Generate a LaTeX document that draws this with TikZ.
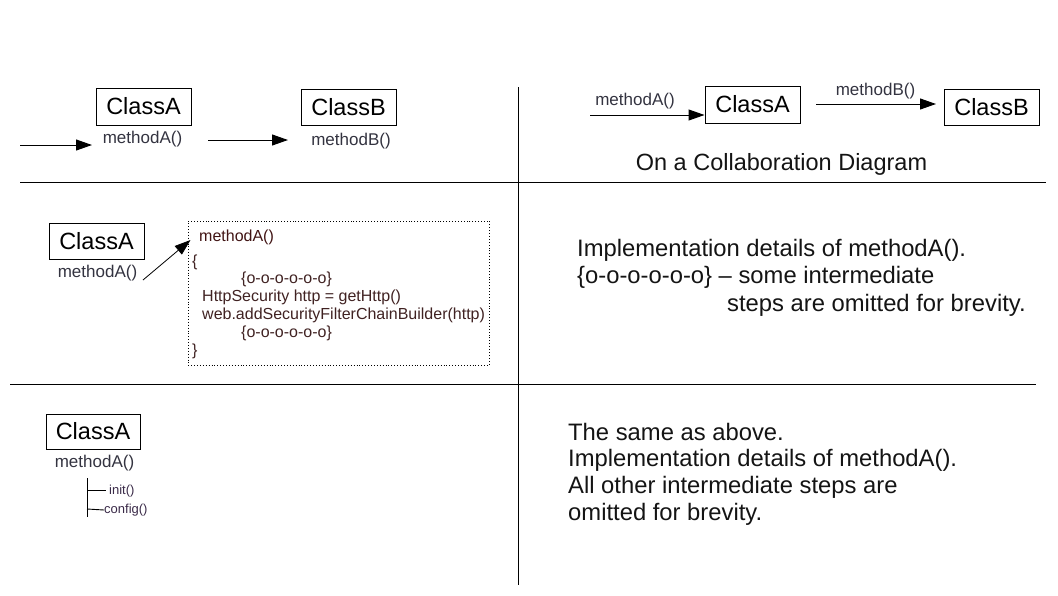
\documentclass[tikz,border=0pt]{standalone}
\usepackage{fontspec}
\setmainfont{Liberation Sans}
\usetikzlibrary{arrows.meta}
\definecolor{lblc}{HTML}{333340}
\definecolor{codec}{HTML}{402222}
\definecolor{treec}{HTML}{3A2A48}
\begin{document}
\begin{tikzpicture}[x=1pt,y=-1pt,
  cls/.style={draw,line width=1pt,minimum width=95pt,minimum height=36pt,inner sep=0pt,font=\fontsize{23.5}{28}\selectfont},
  lbl/.style={inner sep=0pt,text=lblc,font=\fontsize{17}{20}\selectfont},
  code/.style={inner sep=0pt,anchor=base west,text=codec,font=\fontsize{16}{19}\selectfont},
  big/.style={inner sep=0pt,anchor=base west,text=black!92,font=\fontsize{23.8}{28}\selectfont},
  tree/.style={inner sep=0pt,anchor=west,text=treec,font=\fontsize{13}{15}\selectfont},
  arr/.style={-{Triangle[length=16pt,width=11pt]},line width=1pt},
  sep/.style={line width=1pt},
  thin/.style={line width=0.9pt}]
\useasboundingbox (0,0) rectangle (1058,595);
% separators
\coordinate (h1a) at (20,182); \coordinate (h1b) at (1046,182);
\coordinate (h2a) at (10,384); \coordinate (h2b) at (1036,384);
\coordinate (v1a) at (518,87); \coordinate (v1b) at (518,585);
\draw[sep] (h1a) -- (h1b);
\draw[sep] (h2a) -- (h2b);
\draw[sep] (v1a) -- (v1b);
% top left
\node[cls,minimum height=37pt] (tlA) at (143.5,106.5) {ClassA};
\node[lbl] (tlmA) at (142.5,139.5) {methodA()};
\node[cls] (tlB) at (348.5,107) {ClassB};
\node[lbl] (tlmB) at (351,141.5) {methodB()};
\coordinate (t1s) at (20,145); \coordinate (t1e) at (92,145);
\coordinate (t2s) at (208,140); \coordinate (t2e) at (288,140);
\draw[arr] (t1s) -- (t1e);
\draw[arr] (t2s) -- (t2e);
% top right
\node[cls,minimum height=37pt] (trA) at (752.5,104.5) {ClassA};
\node[cls] (trB) at (991.5,107) {ClassB};
\node[lbl] (trmA) at (635,101.5) {methodA()};
\node[lbl] (trmB) at (875.5,91.5) {methodB()};
\coordinate (t3s) at (590,115);
\draw[arr] (t3s) -- (trA.west |- t3s);
\coordinate (t4s) at (816,104); \coordinate (t4e) at (936,104);
\draw[arr] (t4s) -- (t4e);
\node[inner sep=0pt,text=black!92,font=\fontsize{23.5}{28}\selectfont] (collab) at (781.5,164) {On a Collaboration Diagram};
% middle left
\node[cls] (mA) at (96.5,241) {ClassA};
\node[lbl] (mmA) at (97.5,273.5) {methodA()};
\node[draw,dotted,line width=0.9pt,minimum width=301pt,minimum height=144pt,inner sep=0pt] (codebox) at (338.8,293) {};
\coordinate (m1s) at (143,280); \coordinate (m1e) at (190.5,240);
\draw[arr,line width=0.8pt] (m1s) -- (m1e);
\node[code,text=codec!85!red!70!black] (c1) at (199,241.5) {methodA()};
\node[code] (c2) at (192,266) {\{};
\node[code] (c3) at (241,283.5) {\{o-o-o-o-o-o\}};
\node[code] (c4) at (202,301.5) {HttpSecurity http = getHttp()};
\node[code] (c5) at (202,319.5) {web.addSecurityFilterChainBuilder(http)};
\node[code] (c6) at (241,337.5) {\{o-o-o-o-o-o\}};
\node[code] (c7) at (192,355.5) {\}};
% middle right
\node[big] (r1) at (577,256) {Implementation details of methodA().};
\node[big] (r2) at (577,283.5) {\{o-o-o-o-o-o\} – some intermediate};
\node[big] (r3) at (727,311) {steps are omitted for brevity.};
% bottom left
\node[cls,minimum width=94pt,minimum height=35pt] (bA) at (93,431.5) {ClassA};
\node[lbl] (bmA) at (94.5,463.5) {methodA()};
\coordinate (tv1) at (87,478); \coordinate (tv2) at (87,517);
\coordinate (tb1) at (87,490); \coordinate (tb2) at (87,509);
\coordinate (tb1e) at (106,490);
\node[tree] (init) at (109,491) {init()};
\node[tree] (config) at (104,510) {config()};
\draw[thin] (tv1) -- (tv2);
\draw[thin] (tb1) -- (tb1e);
\draw[thin] (tb2) -- (config.west);
% bottom right
\node[big] (b1) at (568,440) {The same as above.};
\node[big] (b2) at (568,466.5) {Implementation details of methodA().};
\node[big] (b3) at (568,493.5) {All other intermediate steps are};
\node[big] (b4) at (568,520) {omitted for brevity.};
\end{tikzpicture}
\end{document}
